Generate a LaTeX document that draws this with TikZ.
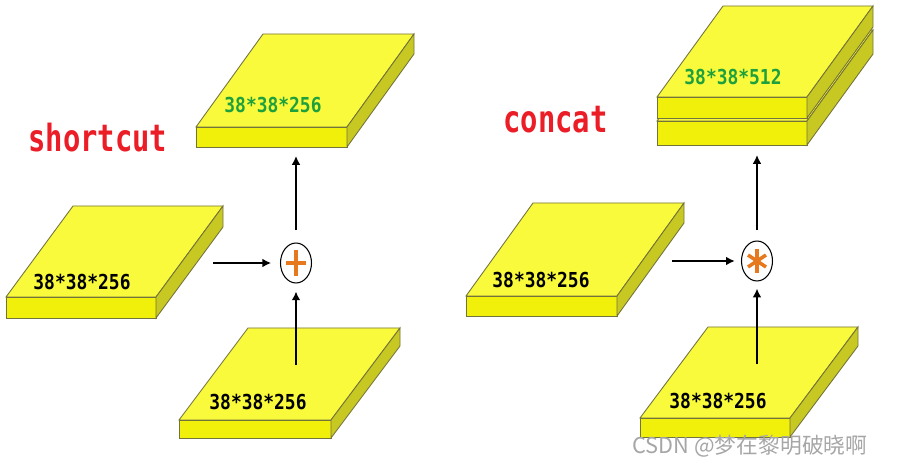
\documentclass[tikz,border=0pt]{standalone}
\usepackage{fontspec}
\usepackage{graphicx}
\usetikzlibrary{arrows.meta,shapes.geometric}
\newfontfamily\monofont{DejaVu Sans Mono}
\newfontfamily\cjkfont{Noto Sans CJK SC}
\definecolor{slabtop}{RGB}{250,250,60}
\definecolor{slabfront}{RGB}{240,240,10}
\definecolor{slabside}{RGB}{200,200,35}
\definecolor{slabedge}{RGB}{115,115,60}
\definecolor{titlered}{RGB}{235,30,40}
\definecolor{dimgreen}{RGB}{30,160,60}
\definecolor{oporange}{RGB}{230,120,30}
\tikzset{
  topface/.style={fill=slabtop,draw=slabedge,line width=0.5pt},
  frontface/.style={fill=slabfront,draw=slabedge,line width=0.5pt},
  sideface/.style={fill=slabside,draw=slabedge,line width=0.5pt},
  dimlabel/.style={anchor=base,inner sep=0pt,font=\monofont\bfseries\fontsize{10.2}{12}\selectfont},
  title/.style={anchor=base west,inner sep=0pt,text=titlered,font=\monofont\bfseries\fontsize{16.4}{18}\selectfont},
  op/.style={ellipse,draw,line width=0.6pt,minimum width=0.62cm,minimum height=0.8cm,inner sep=0pt},
  opsign/.style={draw=oporange,line width=2.3pt},
  flow/.style={line width=1.6pt,-{Latex[length=5pt,width=5pt]}}
}
% slab: x, y (front top left), width, depth dx, depth dy, thickness
\newcommand{\slab}[6]{%
\filldraw[topface] (#1,#2) -- ++(#3,0) -- ++(#4,-#5) -- ++(-#3,0) -- cycle;
\filldraw[frontface] (#1,#2) rectangle ++(#3,#6);
\filldraw[sideface] (#1+#3,#2) -- ++(#4,-#5) -- ++(0,#6) -- ++(-#4,#5) -- cycle;
}
\newcommand{\tallbox}[1]{\scalebox{1}[1.15]{#1}}
\newcommand{\talltitle}[1]{\scalebox{1}[1.3]{#1}}

\begin{document}
\begin{tikzpicture}[x=0.02cm,y=-0.02cm]
\useasboundingbox (0,0) rectangle (904,466);

% shortcut
\slab{6}{297}{150}{67}{91}{21}
\slab{196}{127}{151}{67}{93}{20}
\slab{179}{420}{152}{69}{92}{18}
\node[title] (shortcut) at (28,152) {\talltitle{shortcut}};
\node[dimlabel] (inA) at (82,290) {\tallbox{38*38*256}};
\node[dimlabel,text=dimgreen] (outA) at (273,113) {\tallbox{38*38*256}};
\node[dimlabel] (upA) at (258,410) {\tallbox{38*38*256}};
\node[op] (sumA) at (296,263) {};
\draw[opsign] (sumA.center) ++(-10,0) -- ++(20,0);
\draw[opsign] (sumA.center) ++(0,-13) -- ++(0,26);
\coordinate (fromA) at (213,263);
\coordinate (toA) at (296,156);
\coordinate (belowA) at (296,365);
\draw[flow,shorten >=5pt] (fromA) -- (sumA.west);
\draw[flow,shorten <=7pt] (sumA.north) -- (toA);
\draw[flow,shorten >=4.5pt] (belowA) -- (sumA.south);

% concat
\slab{466}{296}{151}{67}{93}{20}
\slab{657}{121}{150}{66}{91}{24}
\slab{657}{97}{150}{66}{91}{21}
\slab{640}{418}{150}{68}{91}{19}
\node[title] (concat) at (503,133) {\talltitle{concat}};
\node[dimlabel] (inB) at (541,288) {\tallbox{38*38*256}};
\node[dimlabel,text=dimgreen] (outB) at (733,85) {\tallbox{38*38*512}};
\node[dimlabel] (upB) at (718,409) {\tallbox{38*38*256}};
\node[op] (sumB) at (757,261) {};
\draw[opsign,line width=2pt] (sumB.center) ++(0,-12) -- ++(0,24);
\draw[opsign,line width=2pt] (sumB.center) ++(-9,-6) -- ++(18,12);
\draw[opsign,line width=2pt] (sumB.center) ++(-9,6) -- ++(18,-12);
\coordinate (fromB) at (672,261);
\coordinate (toB) at (757,155);
\coordinate (belowB) at (757,364);
\draw[flow,shorten >=3.5pt] (fromB) -- (sumB.west);
\draw[flow,shorten <=6pt] (sumB.north) -- (toB);
\draw[flow,shorten >=4pt] (belowB) -- (sumB.south);

\node[anchor=base west,inner sep=0pt,text=black!35,font=\cjkfont\fontsize{12.4}{14}\selectfont] (mark) at (632,454) {CSDN @梦在黎明破晓啊};
\end{tikzpicture}
\end{document}
